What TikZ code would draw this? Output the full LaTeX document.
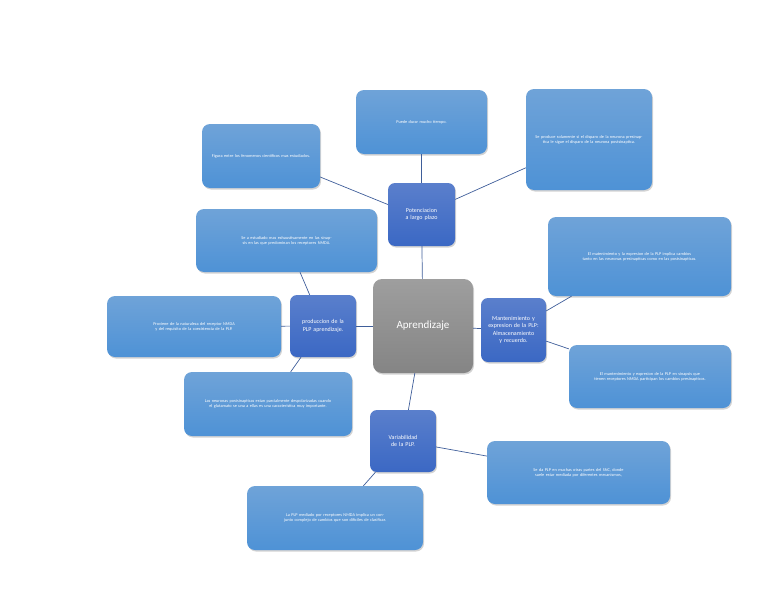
\documentclass[tikz,border=0pt]{standalone}
\usepackage{fontspec}
\setmainfont{Carlito}
\usetikzlibrary{shadows}
\begin{document}
\begin{tikzpicture}[x=1pt,y=-1pt,
 leaf/.style={rounded corners=8pt, top color=blue!30!cyan!45!black!5!white!0!blue!0!white, bottom color=white, draw=none, text=white, align=center, font=\fontsize{4.3}{5.2}\selectfont, drop shadow={opacity=0.35,shadow xshift=1pt,shadow yshift=-1.5pt}},
 hub/.style={rounded corners=7pt, top color=hubtop, bottom color=hubbot, text=white, align=center, font=\fontsize{6}{7.5}\selectfont, drop shadow={opacity=0.35,shadow xshift=1pt,shadow yshift=-1.5pt}},
 conn/.style={draw=linec, line width=0.7pt}]
\definecolor{leaftop}{HTML}{6FA3D8}
\definecolor{leafbot}{HTML}{4E92D6}
\definecolor{hubtop}{HTML}{5A7FCC}
\definecolor{hubbot}{HTML}{3B68C4}
\definecolor{linec}{HTML}{3F5E9A}
\tikzset{leaf/.append style={top color=leaftop, bottom color=leafbot}}
\useasboundingbox (0,0) rectangle (768,594);
\newcommand\bx[6]{\node[#1, minimum width={#4-#2}, minimum height={#5-#3}, text width={#4-#2-14}] (#6) at ({(#2+#4)/2},{(#3+#5)/2})}
\bx{leaf}{356}{90}{487}{154}{puede}{Puede durar mucho tiempo.\\[8pt]};
\bx{leaf}{202}{124}{320}{188}{figura}{Figura entre los fenomenos cientificos mas estudiados.\\[8pt]};
\bx{leaf}{526}{89}{652}{190}{seprod}{Se produce solamente si el disparo de la neurona presinaptica le sigue el disparo de la neurona postsinaptica.\\[22pt]};
\bx{leaf}{196}{209}{377}{272}{sea}{Se a estudiado mas exhaustivamente en las sinapsis en las que predominan los receptores NMDA.\\[8pt]};
\bx{leaf}{107}{296}{281}{357}{prov}{Proviene de la naturaleza del receptor NMDA y del requisito de la coexistencia de la PLP.\\[4pt]};
\bx{leaf}{184}{372}{352}{436}{neur}{Las neuronas postsinapticas estan parcialmente despolarizadas cuando el glutamato se una a ellas es una caracteristica muy importante.\\[4pt]};
\bx{leaf}{548}{217}{731}{296}{mat1}{El matenimiento y la expresion de la PLP implica cambios tanto en las neuronas presinapticas como en las postsinapticas.\\[14pt]};
\bx{leaf}{569}{345}{731}{408}{mat2}{El mantenimiento y expresion de la PLP en sinapsis que tienen receptores NMDA participan los cambios presinapticos.};
\bx{leaf}{487}{441}{670}{504}{seda}{Se da PLP en muchas otras partes del SNC, donde suele estar mediada por diferentes mecanismos,};
\bx{leaf}{247}{486}{423}{550}{laplp}{La PLP mediado por receptores NMDA implica un conjunto complejo de cambios que son dificiles de clasificar.};
\node[rounded corners=9pt, top color=black!38, bottom color=black!48, text=white, font=\fontsize{11}{13}\selectfont, minimum width=100, minimum height=94, drop shadow={opacity=0.35,shadow xshift=1pt,shadow yshift=-1.5pt}] (apr) at (423,326) {Aprendizaje};
\bx{hub}{388}{183}{455}{246}{pot}{Potenciacion a largo plazo};
\bx{hub}{290}{295}{356}{357}{prodc}{produccion de la PLP aprendizaje.};
\bx{hub}{481}{298}{546}{362}{mant}{Mantenimiento y expresion de la PLP: Almacenamiento y recuerdo.};
\bx{hub}{370}{410}{436}{472}{var}{Variabilidad de la PLP.};
\draw[conn] (pot) -- (puede);
\draw[conn] (pot.west) ++(0,-10) -- (figura.east |- 0,177);
\draw[conn] (pot) -- (seprod);
\draw[conn] (pot) -- (apr);
\draw[conn] (prodc) -- (apr);
\draw[conn] (prodc) -- (sea);
\draw[conn] (prodc) -- (neur);
\draw[conn] (prodc) -- (prov);
\draw[conn] (mant) -- (apr);
\draw[conn] (mant) -- (mat1);
\draw[conn] (mant) -- (mat2);
\draw[conn] (var) -- (apr);
\draw[conn] (var) -- (seda);
\draw[conn] (var) -- (laplp);
\end{tikzpicture}
\end{document}
